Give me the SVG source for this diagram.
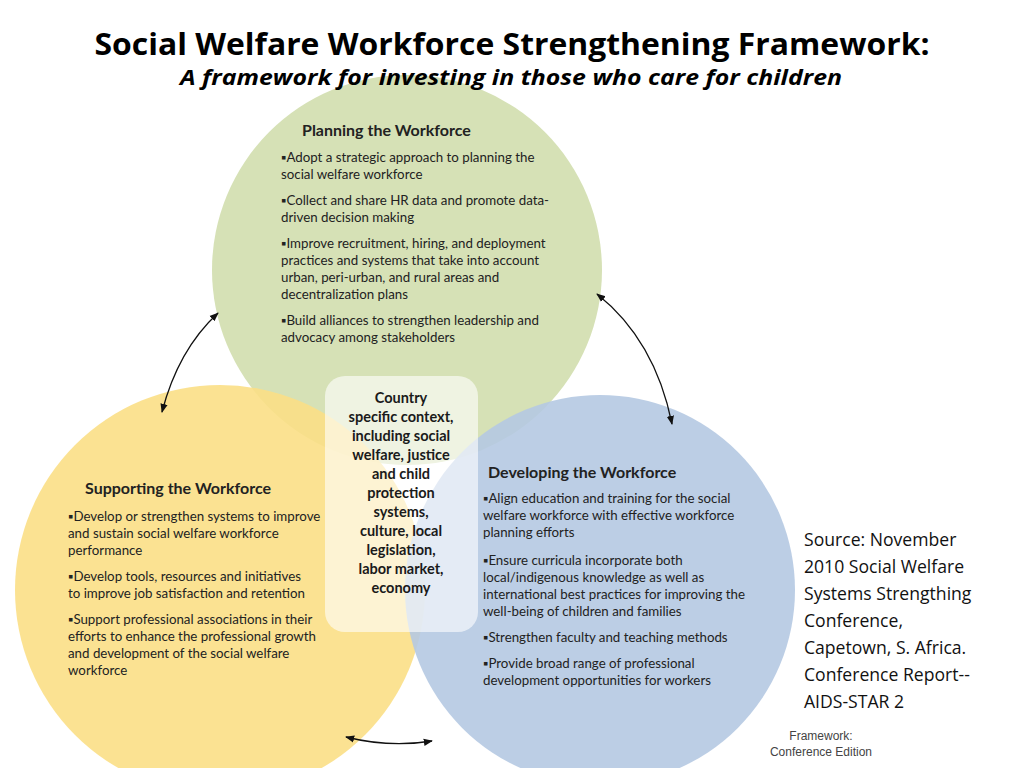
<svg xmlns="http://www.w3.org/2000/svg" width="1024" height="768" viewBox="0 0 1024 768">
<style>
.h{font-family:Lato,"Liberation Sans",sans-serif;font-weight:bold;font-size:16px;fill:#222}
.b{font-family:Lato,"Liberation Sans",sans-serif;font-size:13.3px;fill:#222}
.c{font-family:Lato,"Liberation Sans",sans-serif;font-weight:bold;font-size:14.5px;fill:#1a1a1a;text-anchor:middle}
.s{font-family:"Open Sans","Liberation Sans",sans-serif;font-size:17.6px;fill:#111}
.f{font-family:"Liberation Sans",sans-serif;font-size:12px;fill:#444;text-anchor:middle}
.a{fill:none;stroke:#111;stroke-width:1.3;marker-start:url(#m);marker-end:url(#m)}
</style>
<defs><marker id="m" viewBox="0 0 10 10" refX="9" refY="5" markerWidth="7" markerHeight="7" orient="auto-start-reverse"><path d="M0,1 L10,5 L0,9 z" fill="#111"/></marker></defs>
<rect width="1024" height="768" fill="#fff"/>
<g id="circles">
<circle id="green" cx="407" cy="270" r="195" fill="#d6e1b6"/>
<circle id="yellow" cx="220" cy="590" r="205" fill="#fbdf86" fill-opacity="0.9"/>
<circle id="blue" cx="600" cy="590" r="195" fill="#b5c9e2" fill-opacity="0.9"/>
</g>
<text x="512" y="55" text-anchor="middle" font-family="'Open Sans','Liberation Sans',sans-serif" font-weight="bold" font-size="30" textLength="835" lengthAdjust="spacingAndGlyphs" fill="#000">Social Welfare Workforce Strengthening Framework:</text>
<text x="511" y="85" text-anchor="middle" font-family="'Open Sans','Liberation Sans',sans-serif" font-weight="bold" font-style="italic" font-size="21" textLength="662" lengthAdjust="spacingAndGlyphs" fill="#000">A framework for investing in those who care for children</text>
<g id="center"><rect x="325" y="376" width="153" height="256" rx="20" fill="#fff" fill-opacity="0.6"/>
<text class="c"><tspan x="401" y="403">Country</tspan><tspan x="401" y="422">specific context,</tspan><tspan x="401" y="441">including social</tspan><tspan x="401" y="460">welfare, justice</tspan><tspan x="401" y="479">and child</tspan><tspan x="401" y="498">protection</tspan><tspan x="401" y="517">systems,</tspan><tspan x="401" y="536">culture, local</tspan><tspan x="401" y="555">legislation,</tspan><tspan x="401" y="574">labor market,</tspan><tspan x="401" y="593">economy</tspan></text></g>
<g id="planning"><text class="h" x="302" y="136">Planning the Workforce</text>
<text class="b"><tspan x="281" y="162">▪Adopt a strategic approach to planning the</tspan><tspan x="281" y="179">social welfare workforce</tspan><tspan x="281" y="205">▪Collect and share HR data and promote data-</tspan><tspan x="281" y="222">driven decision making</tspan><tspan x="281" y="248">▪Improve recruitment, hiring, and deployment</tspan><tspan x="281" y="265">practices and systems that take into account</tspan><tspan x="281" y="282">urban, peri-urban, and rural areas and</tspan><tspan x="281" y="299">decentralization plans</tspan><tspan x="281" y="325">▪Build alliances to strengthen leadership and</tspan><tspan x="281" y="342">advocacy among stakeholders</tspan></text></g>
<g id="supporting"><text class="h" x="85" y="494">Supporting the Workforce</text>
<text class="b"><tspan x="68" y="521">▪Develop or strengthen systems to improve</tspan><tspan x="68" y="538">and sustain social welfare workforce</tspan><tspan x="68" y="555">performance</tspan><tspan x="68" y="581">▪Develop tools, resources and initiatives</tspan><tspan x="68" y="598">to improve job satisfaction and retention</tspan><tspan x="68" y="624">▪Support professional associations in their</tspan><tspan x="68" y="641">efforts to enhance the professional growth</tspan><tspan x="68" y="658">and development of the social welfare</tspan><tspan x="68" y="675">workforce</tspan></text></g>
<g id="developing"><text class="h" x="488" y="478">Developing the Workforce</text>
<text class="b"><tspan x="483" y="503">▪Align education and training for the social</tspan><tspan x="483" y="520">welfare workforce with effective workforce</tspan><tspan x="483" y="537">planning efforts</tspan><tspan x="483" y="565">▪Ensure curricula  incorporate both</tspan><tspan x="483" y="582">local/indigenous knowledge as well as</tspan><tspan x="483" y="599">international best practices for improving the</tspan><tspan x="483" y="616">well-being of children and families</tspan><tspan x="483" y="642">▪Strengthen faculty and teaching methods</tspan><tspan x="483" y="668">▪Provide broad range of professional</tspan><tspan x="483" y="685">development opportunities for workers</tspan></text></g>
<g id="connectors">
<path class="a" d="M218,313 Q178,350 162,412"/>
<path class="a" d="M597,294 Q655,340 672,424"/>
<path class="a" d="M346,737 Q390,748 432,741"/>
</g>
<text class="s"><tspan x="804" y="546">Source: November</tspan><tspan x="804" y="573">2010 Social Welfare</tspan><tspan x="804" y="600">Systems Strengthing</tspan><tspan x="804" y="627">Conference,</tspan><tspan x="804" y="654">Capetown, S. Africa.</tspan><tspan x="804" y="681">Conference Report--</tspan><tspan x="804" y="708">AIDS-STAR 2</tspan></text>
<text class="f"><tspan x="821" y="740">Framework:</tspan><tspan x="821" y="756">Conference Edition</tspan></text>
</svg>
